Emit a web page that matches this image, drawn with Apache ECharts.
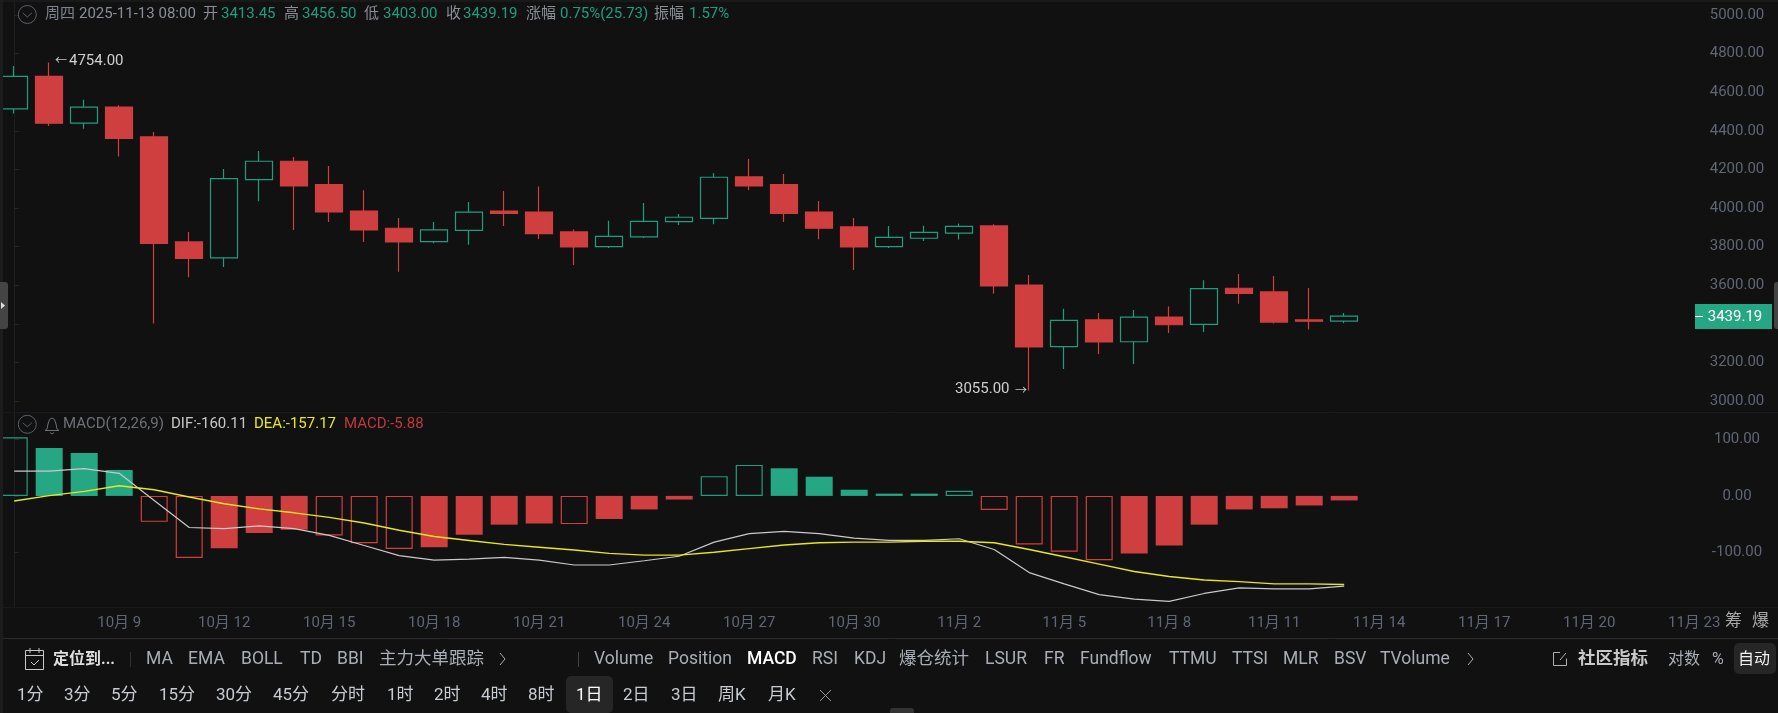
<!DOCTYPE html>
<html><head><meta charset="utf-8">
<style>html,body{margin:0;padding:0;background:#111;}#c{width:1778px;height:713px;}</style>
<script src="https://cdn.jsdelivr.net/npm/echarts@6/dist/echarts.min.js"></script>
</head><body><div id="c"></div>
<script>
const opens  = [4513,4682,4440,4523,4368,3824,3741,4147,4242,4121,3984,3895,3826,3884,3984,3979,3876,3800,3850,3929,3946,4161,4121,3979,3902,3800,3843,3870,3907,3601,3282,3420,3307,3435,3397,3584,3565,3420,3413.45];
const closes = [4682,4439,4522,4361,3817,3739,4152,4242,4114,3979,3886,3824,3886,3978,3972,3867,3798,3853,3931,3952,4159,4114,3972,3895,3798,3848,3874,3905,3596,3280,3418,3306,3434,3395,3582,3558,3409,3413,3439.19];
const lows   = [4489,4425,4411,4266,3401,3641,3694,4035,3886,3927,3824,3670,3817,3810,3907,3839,3705,3793,3845,3912,3915,4093,3927,3838,3679,3793,3829,3836,3556,3055,3166,3244,3192,3352,3357,3504,3402,3370,3403];
const highs  = [4736,4754,4560,4532,4394,3876,4202,4295,4264,4218,4092,3948,3927,4031,4088,4111,3889,3934,4026,3969,4181,4254,4176,4036,3948,3907,3908,3919,3915,3653,3478,3456,3472,3490,3625,3658,3648,3585,3456.5];
const hist   = [104,85,76,46,-46,-110,-93,-66,-60,-70,-84,-94,-91,-69,-51,-49,-50,-41,-24,-6.5,35,55,49,34,11,4,4,9,-25,-86,-99,-114,-102,-88,-51,-24,-22,-17,-8];
const dif    = [44,44,48.5,40,-8,-56,-58,-53,-58,-70,-88,-106,-114,-112,-109,-114,-122.5,-122.5,-115,-107,-82,-67,-63,-67,-75,-79,-79,-76,-95,-136,-156,-175,-183,-187,-173,-163,-165,-165,-160.11];
const dea    = [-9,0.5,8,18,11,-2,-14,-23,-30,-38,-48,-61,-72,-79,-86,-91,-96,-102,-105,-105,-100,-93.5,-87,-83,-82,-82,-80.5,-80.5,-83,-95,-108,-121,-134,-143,-149,-152,-156,-156,-157.17];
const tickIndex  = [3,6,9,12,15,18,21,24,27,30,33,36,39,42,45,48];
const tickLabels = ['10月 9','10月 12','10月 15','10月 18','10月 21','10月 24','10月 27','10月 30','11月 2','11月 5','11月 8','11月 11','11月 14','11月 17','11月 20','11月 23'];
const priceTicks = [3000,3200,3400,3600,3800,4000,4200,4400,4600,4800,5000];
const macdTicks  = [-100,0,100];

const RED='#cf3f3f', GREEN='#26a783', BG='#111111', AX='#5f6675', F='Roboto,"Noto Sans CJK SC",sans-serif';
const chart = echarts.init(document.getElementById('c'),null,{renderer:'canvas'});

const g=[];
function T(x,y,s,c,o){o=o||{};g.push({type:'text',x:x,y:y+1.5,z:50,silent:true,style:{text:s,fill:c,font:(o.w||'400')+' '+(o.s||15)+'px '+F,textVerticalAlign:'middle',textAlign:o.a||'left'}});}
function R(x,y,w,h,c,r,z){g.push({type:'rect',shape:{x:x,y:y,width:w,height:h,r:r||0},z:z||40,silent:true,style:{fill:c}});}
function L(x1,y1,x2,y2,c,w){g.push({type:'line',shape:{x1:x1,y1:y1,x2:x2,y2:y2},z:45,silent:true,style:{stroke:c,lineWidth:w||1}});}
function P(pts,c){g.push({type:'polyline',shape:{points:pts},z:45,silent:true,style:{fill:'none',stroke:c,lineWidth:1}});}
function Circle(x,y){g.push({type:'circle',shape:{cx:x,cy:y,r:9},z:45,silent:true,style:{fill:'none',stroke:'#5a5f68',lineWidth:1}});
  P([[x-4.5,y-1.5],[x,y+2.5],[x+4.5,y-1.5]],'#5a5f68');}

// left strip and panel separators
R(0,0,3,713,'#1c1c1c');
L(0,1,1778,1,'#222');
L(3,412.5,1778,412.5,'#1a1a1e');
L(3,607.5,1778,607.5,'#1a1a1e');
L(3,638.5,1778,638.5,'#2b2b2b');

// header rows
const GR='#8a8e96', UP='#1f9e7d', HY=12.5, MY=423;
Circle(27.3,14.5);
T(45,HY,'周四','#7f838c'); T(79,HY,'2025-11-13 08:00',GR);
[[203,'开',221,'3413.45'],[284,'高',302,'3456.50'],[364,'低',383,'3403.00'],[446,'收',463,'3439.19'],[526,'涨幅',560,'0.75%(25.73)'],[654,'振幅',689,'1.57%']].forEach(a=>{T(a[0],HY,a[1],GR);T(a[2],HY,a[3],UP);});
Circle(27.3,424.3);
P([[45,430.5],[47,429],[48,424],[49.5,419.5],[52,418],[54.5,419.5],[56,424],[57,429],[59,430.5],[45,430.5]],'#6c7078');
P([[50,432.5],[52,434],[54,432.5]],'#6c7078');
T(63,MY,'MACD(12,26,9)','#6c7078');
T(171,MY,'DIF:-160.11','#c8c8c8');
T(254,MY,'DEA:-157.17','#e8e81a');
T(344,MY,'MACD:-5.88','#c03a3a');

// extreme labels
T(55,60,'←','#c8c8c8',{s:12}); T(69,59.5,'4754.00','#cfcfcf');
T(955,388,'3055.00','#cfcfcf'); T(1015,390,'→','#c8c8c8',{s:12});

// current price tag
R(1695,304,77,25,GREEN);
L(1695,316.5,1703,316.5,'#ffffff');
T(1735,315.5,'3439.19','#ffffff',{a:'center'});

// handles
R(0,282,8,47,'#444444',[0,3,3,0]);
g.push({type:'polygon',shape:{points:[[1,302],[1,309],[5,305.5]]},z:46,silent:true,style:{fill:'#ddd'}});
R(1774,282,4,47,'#444444',[3,0,0,3]);
R(890,708,24,5,'#333333',[3,3,0,0]);

// axis corner
T(1725,620,'筹','#a8a8a8',{s:17}); T(1752,620,'爆','#a8a8a8',{s:17});

// toolbar row 1
const W='#a9adb5', S=17.5, Y1=658, Y2=694;
P([[25.5,650.5],[43.5,650.5],[43.5,669.5],[25.5,669.5],[25.5,650.5]],'#c9c9c9');
L(25.5,655.5,43.5,655.5,'#c9c9c9'); L(30,648,30,653,'#c9c9c9'); L(39,648,39,653,'#c9c9c9');
P([[31,662],[34,665],[39,660]],'#c9c9c9');
T(53,Y1,'定位到...','#dedede',{w:'700',s:16});
L(130.5,652,130.5,667,'#333');
[[146,'MA'],[188,'EMA'],[241,'BOLL'],[300,'TD'],[337,'BBI'],[379,'主力大单跟踪'],[594,'Volume'],[668,'Position'],[812,'RSI'],[854,'KDJ'],[899,'爆仓统计'],[985,'LSUR'],[1044,'FR'],[1080,'Fundflow'],[1169,'TTMU'],[1232,'TTSI'],[1283,'MLR'],[1334,'BSV'],[1380,'TVolume']].forEach(a=>T(a[0],Y1,a[1],W,{s:S}));
T(747,Y1,'MACD','#ffffff',{s:S,w:'500'});
L(578.5,652,578.5,667,'#444');
P([[500,653],[505,659],[500,665]],W);
P([[1468,653],[1473,659],[1468,665]],W);
P([[1560,652.5],[1553.5,652.5],[1553.5,665.5],[1566.5,665.5],[1566.5,658.5]],'#b0b0b0');
L(1560,660,1566,653,'#b0b0b0');
T(1578,Y1,'社区指标','#c8c8c8',{w:'700',s:S});
T(1668,Y1,'对数',W,{s:16}); T(1712,Y1,'%',W,{s:16});
R(1734,643,42,31,'#262626',5,30);
T(1738,Y1,'自动','#f0f0f0',{s:16});

// toolbar row 2
R(566,676,47,37,'#262626',5,30);
[[17,'1分'],[64,'3分'],[111,'5分'],[159,'15分'],[216,'30分'],[273,'45分'],[331,'分时'],[387,'1时'],[434,'2时'],[481,'4时'],[528,'8时'],[623,'2日'],[671,'3日'],[718,'周K'],[768,'月K']].forEach(a=>T(a[0],Y2,a[1],'#c8ccd2',{s:17}));
T(576,Y2,'1日','#ffffff',{s:17});
L(820,690,831,701,'#9a9a9a'); L(831,690,820,701,'#9a9a9a');

const xMin=-0.263, xMax=48.08;
const xBase={type:'value',min:xMin,max:xMax,splitLine:{show:false},axisTick:{show:false}};
const yBase={type:'value',position:'right',scale:true,splitLine:{show:false},
  axisLine:{show:true,lineStyle:{color:'#1e1e1e'}},
  axisTick:{show:true,length:5,lineStyle:{color:'#262626'}}};
const yLabel=vals=>({customValues:vals,color:AX,fontSize:15,fontFamily:F,align:'center',verticalAlign:'middle',margin:40,lineHeight:18,padding:[5,0,0,0],formatter:v=>v.toFixed(2)});

chart.setOption({
  backgroundColor:BG,animation:false,
  graphic:{elements:g},
  grid:[{left:5,right:81,top:2,bottom:301},{left:5,right:81,top:413,bottom:106}],
  xAxis:[
    Object.assign({},xBase,{gridIndex:0,axisLine:{show:false},axisLabel:{show:false}}),
    Object.assign({},xBase,{gridIndex:1,axisLine:{show:false},
      axisLabel:{show:true,customValues:tickIndex,color:AX,fontSize:15,fontFamily:F,margin:9,showMinLabel:true,showMaxLabel:true,hideOverlap:false,
        formatter:v=>tickLabels[tickIndex.indexOf(v)]||''}})
  ],
  yAxis:[
    Object.assign({},yBase,{gridIndex:0,min:2943,max:5067,
      axisTick:Object.assign({},yBase.axisTick,{customValues:priceTicks}),
      axisLabel:yLabel(priceTicks)}),
    Object.assign({},yBase,{gridIndex:1,min:-197,max:147,
      axisTick:Object.assign({},yBase.axisTick,{customValues:macdTicks}),
      axisLabel:yLabel(macdTicks)})
  ],
  series:[
    {type:'candlestick',xAxisIndex:0,yAxisIndex:0,barWidth:27,encode:{x:0,y:[1,2,3,4]},
      itemStyle:{color:BG,color0:RED,borderColor:UP,borderColor0:RED,borderWidth:1.2},
      data:opens.map((o,i)=>[i,o,closes[i],lows[i],highs[i]])},
    {type:'bar',xAxisIndex:1,yAxisIndex:1,barWidth:27,
      data:hist.map((v,i)=>{
        const hollow=i===0||v*hist[i-1]<0||Math.abs(v)>Math.abs(hist[i-1]);
        const c=v>=0?GREEN:RED;
        return {value:[i,v],itemStyle:hollow?{color:'rgba(0,0,0,0)',borderColor:v>=0?UP:'#d63c3c',borderWidth:1.2}:{color:c}};
      })},
    {type:'line',xAxisIndex:1,yAxisIndex:1,showSymbol:false,symbol:'none',z:5,lineStyle:{color:'#c9c9c9',width:1.2},data:dif.map((v,i)=>[i,v])},
    {type:'line',xAxisIndex:1,yAxisIndex:1,showSymbol:false,symbol:'none',z:6,lineStyle:{color:'#e6e622',width:1.4},data:dea.map((v,i)=>[i,v])}
  ]
});
</script></body></html>
